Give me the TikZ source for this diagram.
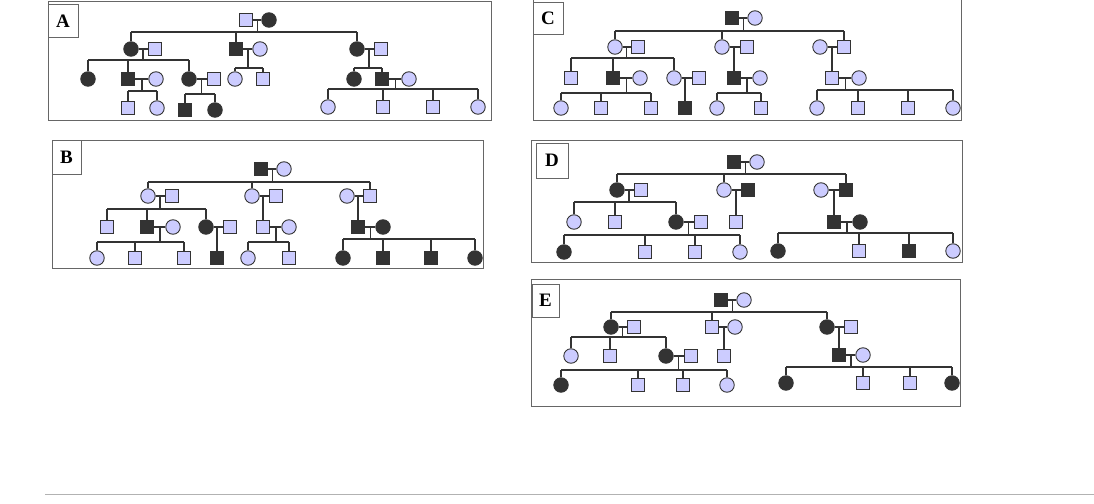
\documentclass[tikz,border=0pt]{standalone}
\usepackage{fontspec}
\setmainfont{Liberation Serif}
\usetikzlibrary{calc}
\begin{document}
\begin{tikzpicture}[x=1pt,y=-1pt,line width=1.1pt,
  ind/.style={draw=black!80,line width=0.9pt,inner sep=0pt},
  m/.style={ind,rectangle,minimum size=13pt},
  f/.style={ind,circle,minimum size=14.5pt},
  a/.style={fill=black!80},
  u/.style={fill=blue!20},
  lk/.style={draw=black!80,line width=1.1pt},
  frame/.style={draw=black!60,line width=1pt},
  lab/.style={draw=black!60,line width=0.8pt,inner sep=0pt}]
\useasboundingbox (0,0) rectangle (1094,503);
\newcommand\pcpl[2]{\draw[lk] (#1) -- (#2); \coordinate (#1#2m) at ($(#1)!.5!(#2)$);}
\newcommand\pfam[6]{\pcpl{#1}{#2}
  \draw[lk] (#1#2m) -- (#1#2m |- 0,#3);
  \draw[lk] (#4.north |- 0,#3) -- (#5.north |- 0,#3);
  \foreach \c in {#6} {\draw[lk] (\c.north) -- (\c.north |- 0,#3);}}
\newcommand\pone[3]{\pcpl{#1}{#2}\draw[lk] (#3.north) -- (#3.north |- #1#2m);}
\newcommand\pp[4]{\node[#1,#2] (#3) at (#4) {};}
\newcommand\lt[1]{{\bfseries\fontsize{19pt}{20pt}\selectfont #1}}
% frames
\draw[frame] (48,2) rectangle (491,120);
\draw[frame] (52,140) rectangle (483,268);
\draw[frame] (533,0) rectangle (961,120);
\draw[frame] (531,140) rectangle (962,262);
\draw[frame] (531,279) rectangle (960,406);
\node[lab,minimum width=30pt,minimum height=33pt] (LA) at (63,21) {\lt{A}};
\node[lab,minimum width=29pt,minimum height=34pt] (LB) at (66.5,157) {\lt{B}};
\node[lab,minimum width=30pt,minimum height=32pt] (LC) at (548,18) {\lt{C}};
\node[lab,minimum width=32pt,minimum height=35pt] (LD) at (552,160.5) {\lt{D}};
\node[lab,minimum width=27pt,minimum height=33pt] (LE) at (545.5,300.5) {\lt{E}};
\draw[black!30,line width=0.8pt] (45,494) -- (1094,494);
% ---------- A
\pp m u {a1}{246,20} \pp f a {a2}{269,20}
\pp f a {a3}{131,49} \pp m u {a4}{155,49} \pp m a {a5}{236,49} \pp f u {a6}{260,49}
\pp f a {a7}{357,49} \pp m u {a8}{381,49}
\pp f a {a9}{88,79} \pp m a {a10}{128,79} \pp f u {a11}{156,79} \pp f a {a12}{189,79} \pp m u {a13}{214,79}
\pp f u {a14}{235,79} \pp m u {a15}{263,79}
\pp f a {a16}{354,79} \pp m a {a17}{382,79} \pp f u {a18}{409,79}
\pp m u {a19}{128,108} \pp f u {a20}{157,108} \pp m a {a21}{185,110} \pp f a {a22}{215,110}
\pp f u {a23}{328,107} \pp m u {a24}{383,107} \pp m u {a25}{433,107} \pp f u {a26}{478,107}
\pfam{a1}{a2}{32}{a3}{a7}{a3,a5,a7}
\pfam{a3}{a4}{60}{a9}{a12}{a9,a10,a12}
\pfam{a5}{a6}{68}{a14}{a15}{a14,a15}
\pfam{a7}{a8}{68}{a16}{a17}{a16,a17}
\pfam{a10}{a11}{91}{a19}{a20}{a19,a20}
\pfam{a12}{a13}{94}{a21}{a22}{a21,a22}
\pfam{a17}{a18}{89}{a23}{a26}{a23,a24,a25,a26}
% ---------- B
\pp m a {b1}{261,169} \pp f u {b2}{284,169}
\pp f u {b3}{148,196} \pp m u {b4}{172,196} \pp f u {b5}{252,196} \pp m u {b6}{276,196}
\pp f u {b7}{347,196} \pp m u {b8}{370,196}
\pp m u {b9}{107,227} \pp m a {b10}{147,227} \pp f u {b11}{173,227} \pp f a {b12}{206,227} \pp m u {b13}{230,227}
\pp m u {b14}{263,227} \pp f u {b15}{289,227} \pp m a {b16}{358,227} \pp f a {b17}{383,227}
\pp f u {b18}{97,258} \pp m u {b19}{135,258} \pp m u {b20}{184,258} \pp m a {b21}{217,258}
\pp f u {b22}{248,258} \pp m u {b23}{289,258}
\pp f a {b24}{343,258} \pp m a {b25}{383,258} \pp m a {b26}{431,258} \pp f a {b27}{475,258}
\pfam{b1}{b2}{182}{b3}{b8}{b3,b5,b8}
\pfam{b3}{b4}{209}{b9}{b12}{b9,b10,b12}
\pone{b5}{b6}{b14}
\pone{b7}{b8}{b16}
\pfam{b10}{b11}{242}{b18}{b20}{b18,b19,b20}
\pone{b12}{b13}{b21}
\pfam{b14}{b15}{242}{b22}{b23}{b22,b23}
\pfam{b16}{b17}{239}{b24}{b27}{b24,b25,b26,b27}
% ---------- C
\pp m a {c1}{732,18} \pp f u {c2}{755,18}
\pp f u {c3}{615,47} \pp m u {c4}{638,47} \pp f u {c5}{722,47} \pp m u {c6}{747,47}
\pp f u {c7}{820,47} \pp m u {c8}{844,47}
\pp m u {c9}{571,78} \pp m a {c10}{613,78} \pp f u {c11}{640,78} \pp f u {c12}{674,78} \pp m u {c13}{699,78}
\pp m a {c14}{734,78} \pp f u {c15}{760,78} \pp m u {c16}{832,78} \pp f u {c17}{859,78}
\pp f u {c18}{561,108} \pp m u {c19}{601,108} \pp m u {c20}{651,108} \pp m a {c21}{685,108}
\pp f u {c22}{717,108} \pp m u {c23}{761,108}
\pp f u {c24}{817,108} \pp m u {c25}{858,108} \pp m u {c26}{908,108} \pp f u {c27}{953,108}
\pfam{c1}{c2}{31}{c3}{c8}{c3,c5,c8}
\pfam{c3}{c4}{58}{c9}{c12}{c9,c10,c12}
\pone{c5}{c6}{c14}
\pone{c7}{c8}{c16}
\pfam{c10}{c11}{93}{c18}{c20}{c18,c19,c20}
\pone{c12}{c13}{c21}
\pfam{c14}{c15}{93}{c22}{c23}{c22,c23}
\pfam{c16}{c17}{90}{c24}{c27}{c24,c25,c26,c27}
% ---------- D
\pp m a {d1}{734,162} \pp f u {d2}{757,162}
\pp f a {d3}{617,190} \pp m u {d4}{641,190} \pp f u {d5}{724,190} \pp m a {d6}{748,190}
\pp f u {d7}{821,190} \pp m a {d8}{846,190}
\pp f u {d9}{574,222} \pp m u {d10}{615,222} \pp f a {d11}{676,222} \pp m u {d12}{701,222}
\pp m u {d13}{736,222} \pp m a {d14}{834,222} \pp f a {d15}{860,222}
\pp f a {d16}{564,252} \pp m u {d17}{645,252} \pp m u {d18}{695,252} \pp f u {d19}{740,252}
\pp f a {d20}{778,251} \pp m u {d21}{859,251} \pp m a {d22}{909,251} \pp f u {d23}{953,251}
\pfam{d1}{d2}{174}{d3}{d8}{d3,d5,d8}
\pfam{d3}{d4}{202}{d9}{d11}{d9,d10,d11}
\pone{d5}{d6}{d13}
\pone{d7}{d8}{d14}
\pfam{d11}{d12}{235}{d16}{d19}{d16,d17,d18,d19}
\pfam{d14}{d15}{233}{d20}{d23}{d20,d21,d22,d23}
% ---------- E
\pp m a {e1}{721,300} \pp f u {e2}{744,300}
\pp f a {e3}{611,327} \pp m u {e4}{634,327} \pp m u {e5}{712,327} \pp f u {e6}{735,327}
\pp f a {e7}{827,327} \pp m u {e8}{851,327}
\pp f u {e9}{571,356} \pp m u {e10}{610,356} \pp f a {e11}{666,356} \pp m u {e12}{691,356}
\pp m u {e13}{724,356} \pp m a {e14}{839,355} \pp f u {e15}{863,355}
\pp f a {e16}{561,385} \pp m u {e17}{638,385} \pp m u {e18}{683,385} \pp f u {e19}{727,385}
\pp f a {e20}{786,383} \pp m u {e21}{863,383} \pp m u {e22}{910,383} \pp f a {e23}{952,383}
\pfam{e1}{e2}{312}{e3}{e7}{e3,e5,e7}
\pfam{e3}{e4}{337}{e9}{e11}{e9,e10,e11}
\pone{e5}{e6}{e13}
\pone{e7}{e8}{e14}
\pfam{e11}{e12}{370}{e16}{e19}{e16,e17,e18,e19}
\pfam{e14}{e15}{367}{e20}{e23}{e20,e21,e22,e23}
\end{tikzpicture}
\end{document}
